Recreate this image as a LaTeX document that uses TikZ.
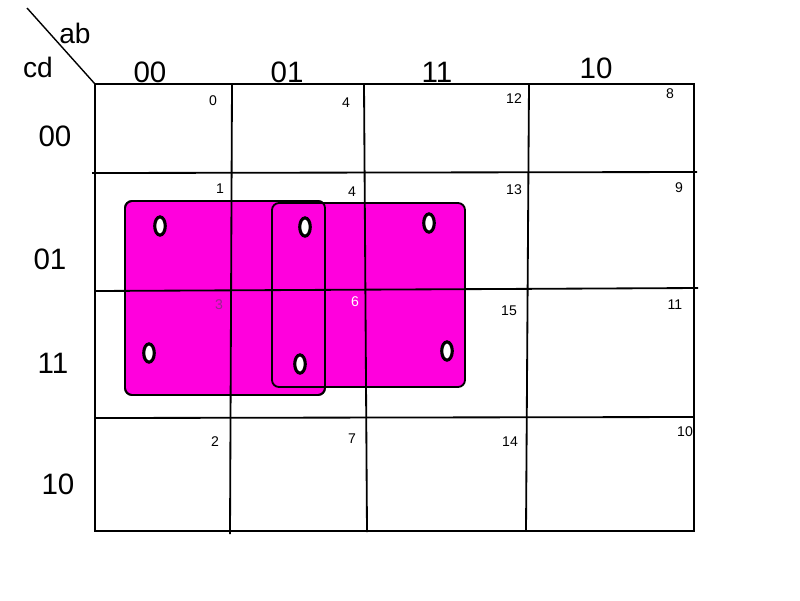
\documentclass[tikz,border=0pt]{standalone}
\usepackage{fontspec}
\setmainfont{Liberation Sans}
\usepackage{xcolor}
\usetikzlibrary{shapes.geometric}
\definecolor{groupfill}{RGB}{255,0,221}
\definecolor{darkno}{RGB}{150,40,140}
\tikzset{>=latex}
\tikzset{
	head/.style={font=\fontsize{21}{23}\selectfont, inner sep=0pt},
	cellno/.style={font=\fontsize{10}{12}\selectfont, inner sep=0pt},
	zero/.style={ellipse, draw, fill=white, line width=2.2pt,
		minimum width=7.5pt, minimum height=13pt, inner sep=0pt},
	grid/.style={line width=1.3pt},
	group/.style={fill=groupfill, line width=1.3pt, rounded corners=5pt}
}

\begin{document}
\begin{tikzpicture}[x=0.025cm, y=-0.025cm]
	\useasboundingbox (0,0) rectangle (800,600);

% draw magenta groups
	\draw[group] (125,201) rectangle (325,395);
	\draw[group] (272,203) rectangle (465,387);
	\draw[line width=1.3pt, rounded corners=5pt] (125,201) rectangle (325,395);

% draw grid
	\draw[grid] (95,84) rectangle (694,531);
	\draw[grid] (232,84) -- (230,534);
	\draw[grid] (364,84) -- (367,532);
	\draw[grid] (529,84) -- (526,531);
	\draw[grid] (92,173) -- (697,172);
	\draw[grid] (95,291) -- (698,288);
	\draw[grid] (95,418) -- (694,417);
	\draw[line width=1pt] (27,8) -- (95,84);

% variable labels
	\node[head, font=\fontsize{20}{22}\selectfont] (ab) at (75,33) {ab};
	\node[head, font=\fontsize{20}{22}\selectfont] (cd) at (38,67) {cd};

% column and row headers
	\node[head] (c00) at (150,72) {00};
	\node[head] (c01) at (287,72) {01};
	\node[head] (c11) at (437,72) {11};
	\node[head] (c10) at (596,68) {10};
	\node[head] (r00) at (55,136) {00};
	\node[head] (r01) at (50,259) {01};
	\node[head] (r11) at (53,363) {11};
	\node[head] (r10) at (58,484) {10};

% cell numbers
	\node[cellno] (n0) at (213,101) {0};
	\node[cellno] (n4) at (346,103) {4};
	\node[cellno] (n12) at (514,99) {12};
	\node[cellno] (n8) at (670,94) {8};
	\node[cellno] (n1) at (220,189) {1};
	\node[cellno] (n5) at (352,192) {4};
	\node[cellno] (n13) at (514,190) {13};
	\node[cellno] (n9) at (679,188) {9};
	\node[cellno, text=darkno] (n3) at (219,305) {3};
	\node[cellno, text=white] (n6) at (355,302) {6};
	\node[cellno] (n15) at (509,311) {15};
	\node[cellno] (n11) at (675,305) {11};
	\node[cellno] (n2) at (215,442) {2};
	\node[cellno] (n7) at (352,439) {7};
	\node[cellno] (n14) at (510,442) {14};
	\node[cellno] (n10) at (685,432) {10};

% zeros in the groups
	\node[zero] (z1) at (160,226) {};
	\node[zero] (z2) at (305,227) {};
	\node[zero] (z3) at (429,223) {};
	\node[zero] (z4) at (149,353) {};
	\node[zero] (z5) at (300,364) {};
	\node[zero] (z6) at (447,351) {};
\end{tikzpicture}
\end{document}
